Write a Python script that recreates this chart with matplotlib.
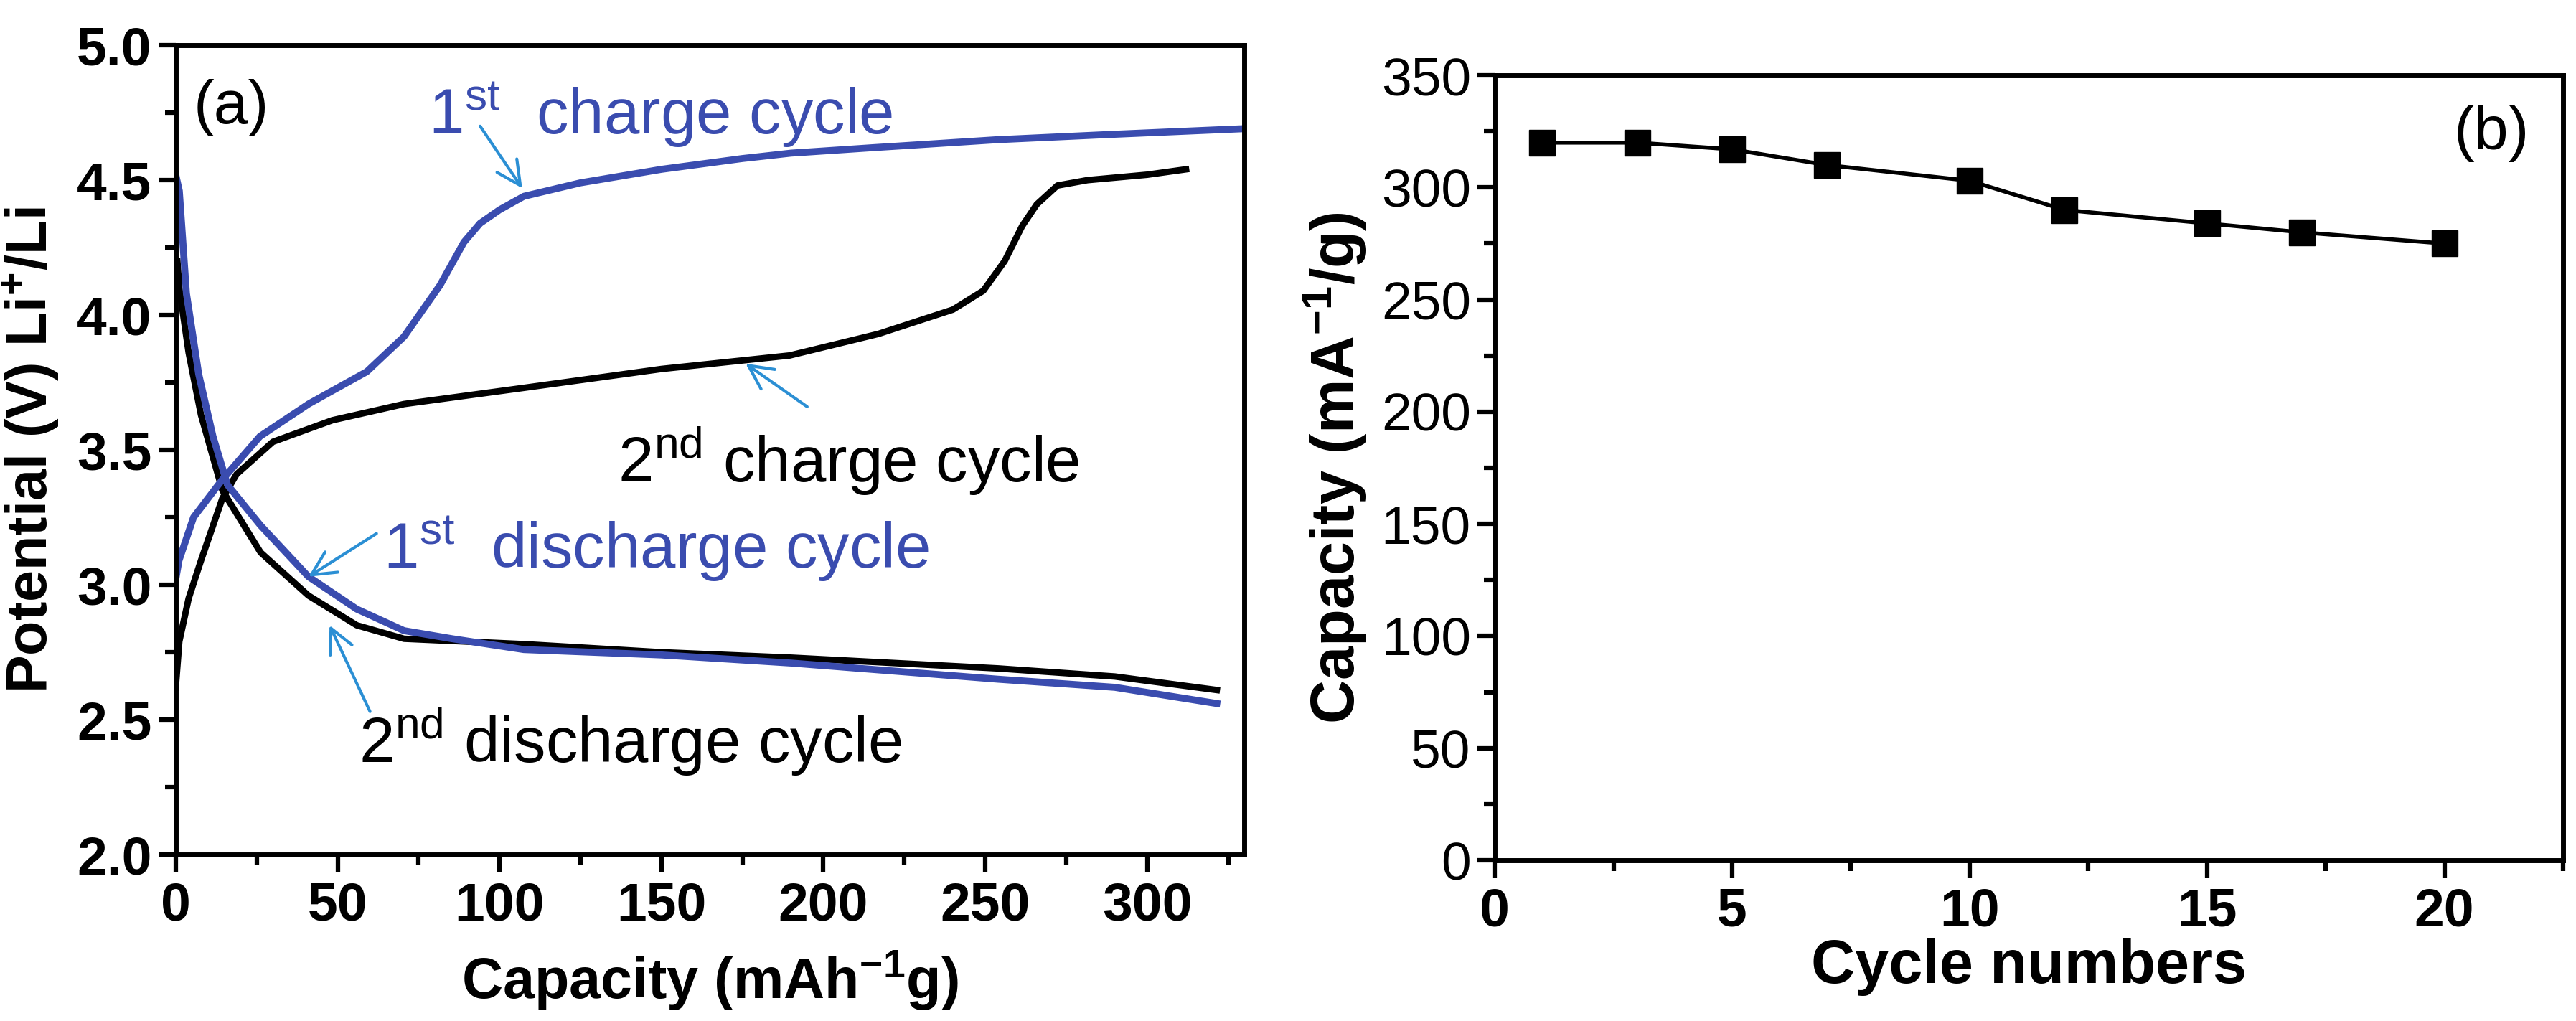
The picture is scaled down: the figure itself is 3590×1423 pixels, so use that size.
#!/usr/bin/env python3
from matplotlib import pyplot as plt
from matplotlib.ticker import MultipleLocator, FormatStrFormatter

# (a) charge / discharge profiles
charge1_x = [0, 1, 5.5, 14.4, 26, 41, 59, 70.5, 81.6, 89, 94, 100, 107.5,
             125, 150, 175, 190, 215, 254, 290, 328.6]
charge1_y = [3.02, 3.09, 3.25, 3.39, 3.55, 3.67, 3.79, 3.92, 4.11, 4.27, 4.34,
             4.39, 4.44, 4.49, 4.54, 4.58, 4.60, 4.62, 4.65, 4.67, 4.69]

charge2_x = [0, 1.1, 4, 7.8, 14.4, 18.8, 30, 48.4, 70.5, 107.5, 150, 189.6,
             217, 240, 249.4, 256, 261.4, 265.9, 272.3, 281.6, 300, 312]
charge2_y = [2.62, 2.79, 2.95, 3.09, 3.32, 3.41, 3.53, 3.61, 3.67, 3.73, 3.80,
             3.85, 3.93, 4.02, 4.09, 4.20, 4.33, 4.41, 4.48, 4.50, 4.52, 4.54]

discharge1_x = [0, 1.1, 3.3, 7.1, 11.5, 16, 26.2, 41, 55.9, 70.5, 85.4, 107.5,
                150, 190, 254, 290, 321.5]
discharge1_y = [4.52, 4.46, 4.08, 3.78, 3.55, 3.37, 3.22, 3.03, 2.91, 2.83,
                2.80, 2.76, 2.74, 2.71, 2.65, 2.62, 2.56]

discharge2_x = [0.5, 1.1, 4, 7.8, 14.4, 26.2, 41, 55.9, 70.5, 107.5, 150,
                190, 254, 290, 321.5]
discharge2_y = [4.2, 4.10, 3.86, 3.63, 3.35, 3.12, 2.96, 2.85, 2.80, 2.78,
                2.75, 2.73, 2.69, 2.66, 2.61]

# (b) capacity retention
cycles = [1, 3, 5, 7, 10, 12, 15, 17, 20]
capacity = [320, 320, 317, 310, 303, 290, 284, 280, 275]

BLUE = '#3a4caf'
ARROW = '#2b8fd4'

plt.rcParams['font.family'] = ['Liberation Sans', 'DejaVu Sans']
plt.rcParams['mathtext.default'] = 'regular'


def style_axes(ax):
    for side in ['left', 'right', 'top', 'bottom']:
        ax.spines[side].set_linewidth(5)
    ax.tick_params(which='both', direction='out', top=False, right=False,
                   width=4.5)
    ax.tick_params(axis='x', which='both', pad=10)
    ax.tick_params(axis='y', which='both', pad=7)
    ax.tick_params(which='major', length=17)
    ax.tick_params(which='minor', length=11)


def arrow(ax, head, tail):
    ax.annotate('', xy=head, xytext=tail,
                arrowprops=dict(arrowstyle='->', color=ARROW, lw=3,
                                mutation_scale=60, shrinkA=0, shrinkB=0))


def plot_profiles(ax):
    ax.plot(charge2_x, charge2_y, color='black', lw=6.5,
            solid_joinstyle='round')
    ax.plot(discharge2_x, discharge2_y, color='black', lw=6.5,
            solid_joinstyle='round')
    ax.plot(charge1_x, charge1_y, color=BLUE, lw=7, solid_joinstyle='round')
    ax.plot(discharge1_x, discharge1_y, color=BLUE, lw=7,
            solid_joinstyle='round')

    ax.set_xlim(0, 330)
    ax.set_ylim(2.0, 5.0)
    ax.xaxis.set_major_locator(MultipleLocator(50))
    ax.xaxis.set_minor_locator(MultipleLocator(25))
    ax.yaxis.set_major_locator(MultipleLocator(0.5))
    ax.yaxis.set_minor_locator(MultipleLocator(0.25))
    ax.yaxis.set_major_formatter(FormatStrFormatter('%.1f'))
    style_axes(ax)
    for lab in ax.get_xticklabels() + ax.get_yticklabels():
        lab.set_fontsize(54)
        lab.set_fontweight('bold')

    ax.set_xlabel('Capacity (mAh$^{-1}$g)', fontsize=57, fontweight='bold',
                  labelpad=18)
    ax.set_ylabel('Potential (V) Li$^{+}$/Li', fontsize=57, fontweight='bold',
                  labelpad=16)

    ax.text(5.5, 4.71, '(a)', fontsize=62)
    ax.text(78, 4.67, '1$^{st}$  charge cycle', fontsize=64, color=BLUE)
    ax.text(136.5, 3.38, '2$^{nd}$ charge cycle', fontsize=64, color='black')
    ax.text(64, 3.06, '1$^{st}$  discharge cycle', fontsize=64, color=BLUE)
    ax.text(56.5, 2.34, '2$^{nd}$ discharge cycle', fontsize=64,
            color='black')

    arrow(ax, (107, 4.47), (94, 4.70))
    arrow(ax, (176, 3.82), (195, 3.66))
    arrow(ax, (41, 3.03), (62, 3.19))
    arrow(ax, (47.5, 2.85), (60, 2.53))


def plot_cycles(ax):
    ax.plot(cycles, capacity, color='black', lw=4, marker='s',
            markersize=26)
    ax.set_xlim(0, 22.5)
    ax.set_ylim(0, 350)
    ax.xaxis.set_major_locator(MultipleLocator(5))
    ax.xaxis.set_minor_locator(MultipleLocator(2.5))
    ax.yaxis.set_major_locator(MultipleLocator(50))
    ax.yaxis.set_minor_locator(MultipleLocator(25))
    style_axes(ax)
    for lab in ax.get_xticklabels():
        lab.set_fontsize(54)
        lab.set_fontweight('bold')
    for lab in ax.get_yticklabels():
        lab.set_fontsize(54)

    ax.set_xlabel('Cycle numbers', fontsize=61, fontweight='bold', labelpad=2)
    ax.set_ylabel('Capacity (mA$^{-1}$/g)', fontsize=61, fontweight='bold',
                  labelpad=12)
    ax.text(20.2, 317, '(b)', fontsize=62)


def main():
    fig = plt.figure(figsize=(35.91, 14.23), dpi=100)
    ax1 = fig.add_axes([0.0682, 0.1630, 0.4147, 0.7927])
    ax2 = fig.add_axes([0.5801, 0.1574, 0.4146, 0.7688])
    plot_profiles(ax1)
    plot_cycles(ax2)
    fig.savefig('out.png', dpi=100)


if __name__ == "__main__":
    main()
